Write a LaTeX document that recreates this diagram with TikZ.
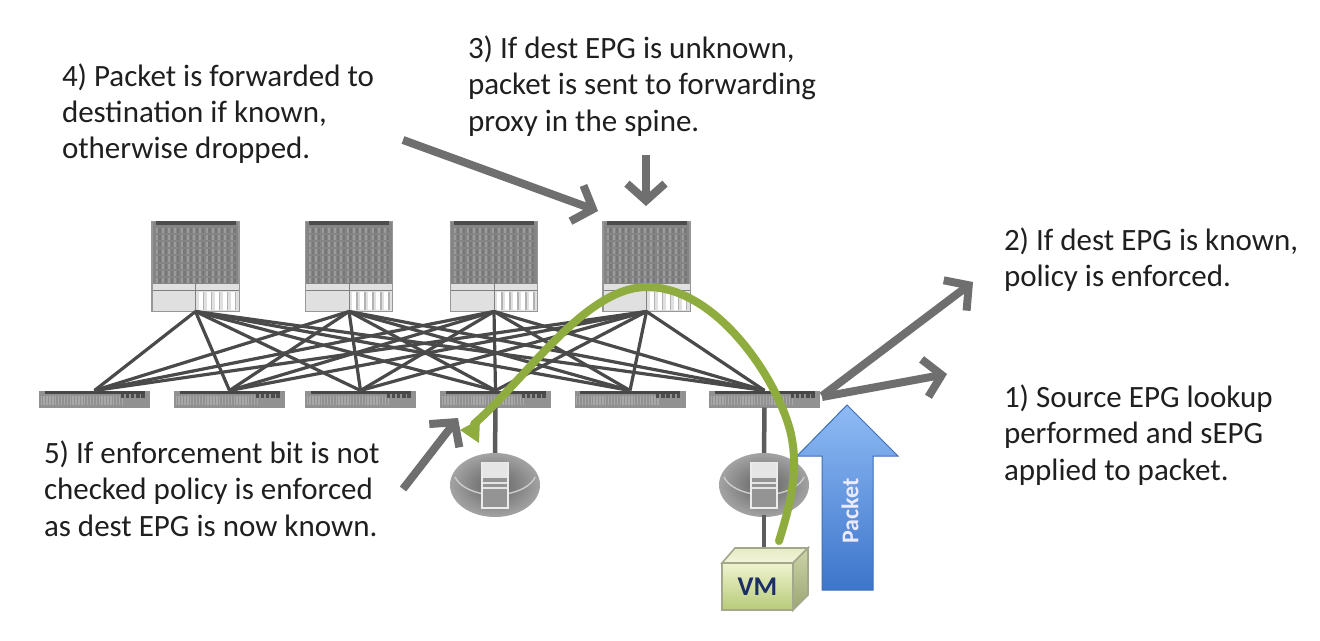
\documentclass[tikz,border=0pt]{standalone}
\usepackage{fontspec}
\setmainfont{Carlito}
\usetikzlibrary{arrows.meta,calc}
\definecolor{arrowgray}{HTML}{6F6F6F}
\definecolor{linkgray}{HTML}{4A4A4A}
\definecolor{devgray}{HTML}{858585}
\definecolor{pathgreen}{HTML}{8FAD3F}
\definecolor{navyvm}{HTML}{1B2F66}
\definecolor{vmline}{HTML}{A3A88C}
\definecolor{vmfronttop}{HTML}{EFF3CF}
\definecolor{vmfrontbot}{HTML}{B7CB78}
\definecolor{vmtoptop}{HTML}{E6EBC4}
\definecolor{vmtopbot}{HTML}{F2F5DC}
\definecolor{vmsidetop}{HTML}{CDD4A8}
\definecolor{vmsidebot}{HTML}{9AA673}
\definecolor{pktline}{HTML}{3B6FB8}
\definecolor{pkttop}{HTML}{8FBBF5}
\definecolor{pktbot}{HTML}{3D75CB}
\tikzset{
  x=1pt,y=-1pt,
  note/.style={inner sep=0pt,outer sep=0pt,anchor=north west,align=left,font=\fontsize{31}{36.3}\selectfont,text=black!88},
  callout/.style={draw=arrowgray,line width=8pt,-{Straight Barb[length=17pt,width=38pt,line width=8pt]}},
  link/.style={draw=linkgray,line width=3.2pt},
  drop/.style={draw=linkgray!90,line width=4.5pt},
  spinebody/.style={draw=devgray!85,fill=devgray,line width=1.4pt,minimum width=87pt,minimum height=90pt,inner sep=0pt,outer sep=0pt},
  leafbody/.style={fill=devgray!90,minimum width=111pt,minimum height=17pt,inner sep=0pt,outer sep=0pt},
}
\newcommand{\spinebox}[3]{% name, cx, top y
  \node[spinebody] (#1) at (#2,#3+45.5) {};
  \begin{scope}[shift={(#2,#3)}]
    \fill[black!70] (-40,0) rectangle (40,4);
    \foreach \r in {0,...,7}{
      \foreach \c in {0,...,12}{
        \fill[black!30,opacity=.5] (-40+\c*6.25,6.5+\r*7.2) rectangle ++(2.2,5.2);
        \fill[black!60,opacity=.4] (-37.2+\c*6.25,6.5+\r*7.2) rectangle ++(2.4,5.2);
      }
    }
    \fill[black!12] (-43,63) rectangle (43,90);
    \draw[black!50,line width=.8pt] (-43,69) -- (43,69);
    \draw[black!50,line width=1pt] (0,63) -- (0,90);
    \foreach \c in {0,...,4}{\fill[white] (3+\c*8,71) rectangle ++(4,18);\fill[black!30] (7+\c*8,71) rectangle ++(1.6,18);}
  \end{scope}
}
\newcommand{\leafbox}[3]{% name, cx, top y
  \node[leafbody] (#1) at (#2,#3+9) {};
  \begin{scope}[shift={(#2,#3)}]
    \fill[black!72] (-50,0.5) rectangle (50,4);
    \foreach \c in {0,...,28}{\fill[black!25,opacity=.5] (-54+\c*2.9,6) rectangle ++(1.4,9);}
    \foreach \c in {0,...,4}{\fill[black!70] (26+\c*5.2,3.5) rectangle ++(3.4,4);}
  \end{scope}
}
\newcommand{\hostbox}[3]{% name, cx, cy
  \shade[inner color=black!62,outer color=black!36] (#2,#3) ellipse [x radius=45,y radius=32];
  \draw[white!80!black,line width=1.4pt] ($(#2,#3)+(-40,-8)$) arc[start angle=195,end angle=345,x radius=41.5,y radius=-24];
  \node[draw=white!92!black,line width=2pt,fill=black!42,minimum width=26pt,minimum height=45pt,inner sep=0pt] (#1) at (#2,#3) {};
  \fill[white!90!black] ($(#2,#3)+(-12,-22)$) rectangle ($(#2,#3)+(12,-7)$);
  \draw[white!90!black,line width=1.2pt] ($(#2,#3)+(-12,-2)$) -- ++(24,0) ($(#2,#3)+(-12,3)$) -- ++(24,0);
}
\begin{document}
\begin{tikzpicture}
\useasboundingbox (0,0) rectangle (1320,640);
\fill[white] (0,0) rectangle (1320,640);

% Spines and leaves
\spinebox{s1}{195.5}{221}
\spinebox{s2}{349}{221}
\spinebox{s3}{494}{221}
\spinebox{s4}{646.5}{221}
\leafbox{l1}{94.5}{390}
\leafbox{l2}{229.5}{390}
\leafbox{l3}{360.5}{390}
\leafbox{l4}{495.5}{390}
\leafbox{l5}{630}{390}
\leafbox{l6}{764.5}{390}

% Fabric mesh
\foreach \s in {s1,s2,s3,s4}{
  \foreach \l in {l1,l2,l3,l4,l5,l6}{
    \draw[link] (\s.south) -- (\l.north);
  }
}

% Hosts
\draw[drop] (l4.south) -- (495,455);
\draw[drop] (l6.south) -- (764,455);
\hostbox{h1}{495}{485}
\hostbox{h2}{764}{485}

% VM
\coordinate (vmtop) at (764,548);
\draw[drop] (764,515) -- (vmtop);
\draw[draw=vmline,line width=1.6pt,top color=vmtoptop,bottom color=vmtopbot] (722,563) -- (735,548) -- (808,548) -- (793,563) -- cycle;
\draw[draw=vmline,line width=1.6pt,top color=vmsidetop,bottom color=vmsidebot] (793,563) -- (808,548) -- (808,595) -- (793,610) -- cycle;
\node[draw=vmline,line width=1.6pt,top color=vmfronttop,bottom color=vmfrontbot,minimum width=71pt,minimum height=47pt,inner sep=0pt,font=\fontsize{27}{27}\selectfont\bfseries,text=navyvm] (vm) at (757.5,586.5) {VM};

% Packet arrow
\draw[draw=pktline,line width=1pt,top color=pkttop,bottom color=pktbot] (847,405) -- (898,456) -- (873,456) -- (873,590) -- (822,590) -- (822,456) -- (797,456) -- cycle;
\node[rotate=90,text=white!92!blue,font=\fontsize{24}{24}\selectfont\bfseries] (pkt) at (850,511) {Packet};

% Green forwarding path
\draw[pathgreen,line width=8pt,line cap=round] (779,541) .. controls (790,505) and (800,470) .. (790,430) .. controls (775,375) and (715,287) .. (647,287) .. controls (585,287) and (525,380) .. (474,424);
\coordinate (gtip) at (460,430);
\fill[pathgreen] (gtip) -- (480,419) -- (479,443) -- cycle;

% Callout arrows
\coordinate (a4s) at (403,140); \coordinate (a4e) at (598,211);
\coordinate (a3s) at (646,155); \coordinate (a3e) at (646,206);
\coordinate (a2s) at (822,396); \coordinate (a2e) at (973,282);
\coordinate (a1s) at (822,397); \coordinate (a1e) at (947,374);
\coordinate (a5s) at (403,489); \coordinate (a5e) at (458,418);
\draw[callout] (a4s) -- (a4e);
\draw[callout] (a3s) -- (a3e);
\draw[callout] (a2s) -- (a2e);
\draw[callout] (a1s) -- (a1e);
\draw[callout] (a5s) -- (a5e);

% Notes
\node[note] (n4) at (62,63.5) {4) Packet is forwarded to\\destination if known,\\otherwise dropped.};
\node[note] (n3) at (468,36) {3) If dest EPG is unknown,\\packet is sent to forwarding\\proxy in the spine.};
\node[note] (n2) at (1004,228) {2) If dest EPG is known,\\policy is enforced.};
\node[note] (n1) at (1004,385) {1) Source EPG lookup\\performed and sEPG\\applied to packet.};
\node[note] (n5) at (44,441) {5) If enforcement bit is not\\checked policy is enforced\\as dest EPG is now known.};
\end{tikzpicture}
\end{document}
